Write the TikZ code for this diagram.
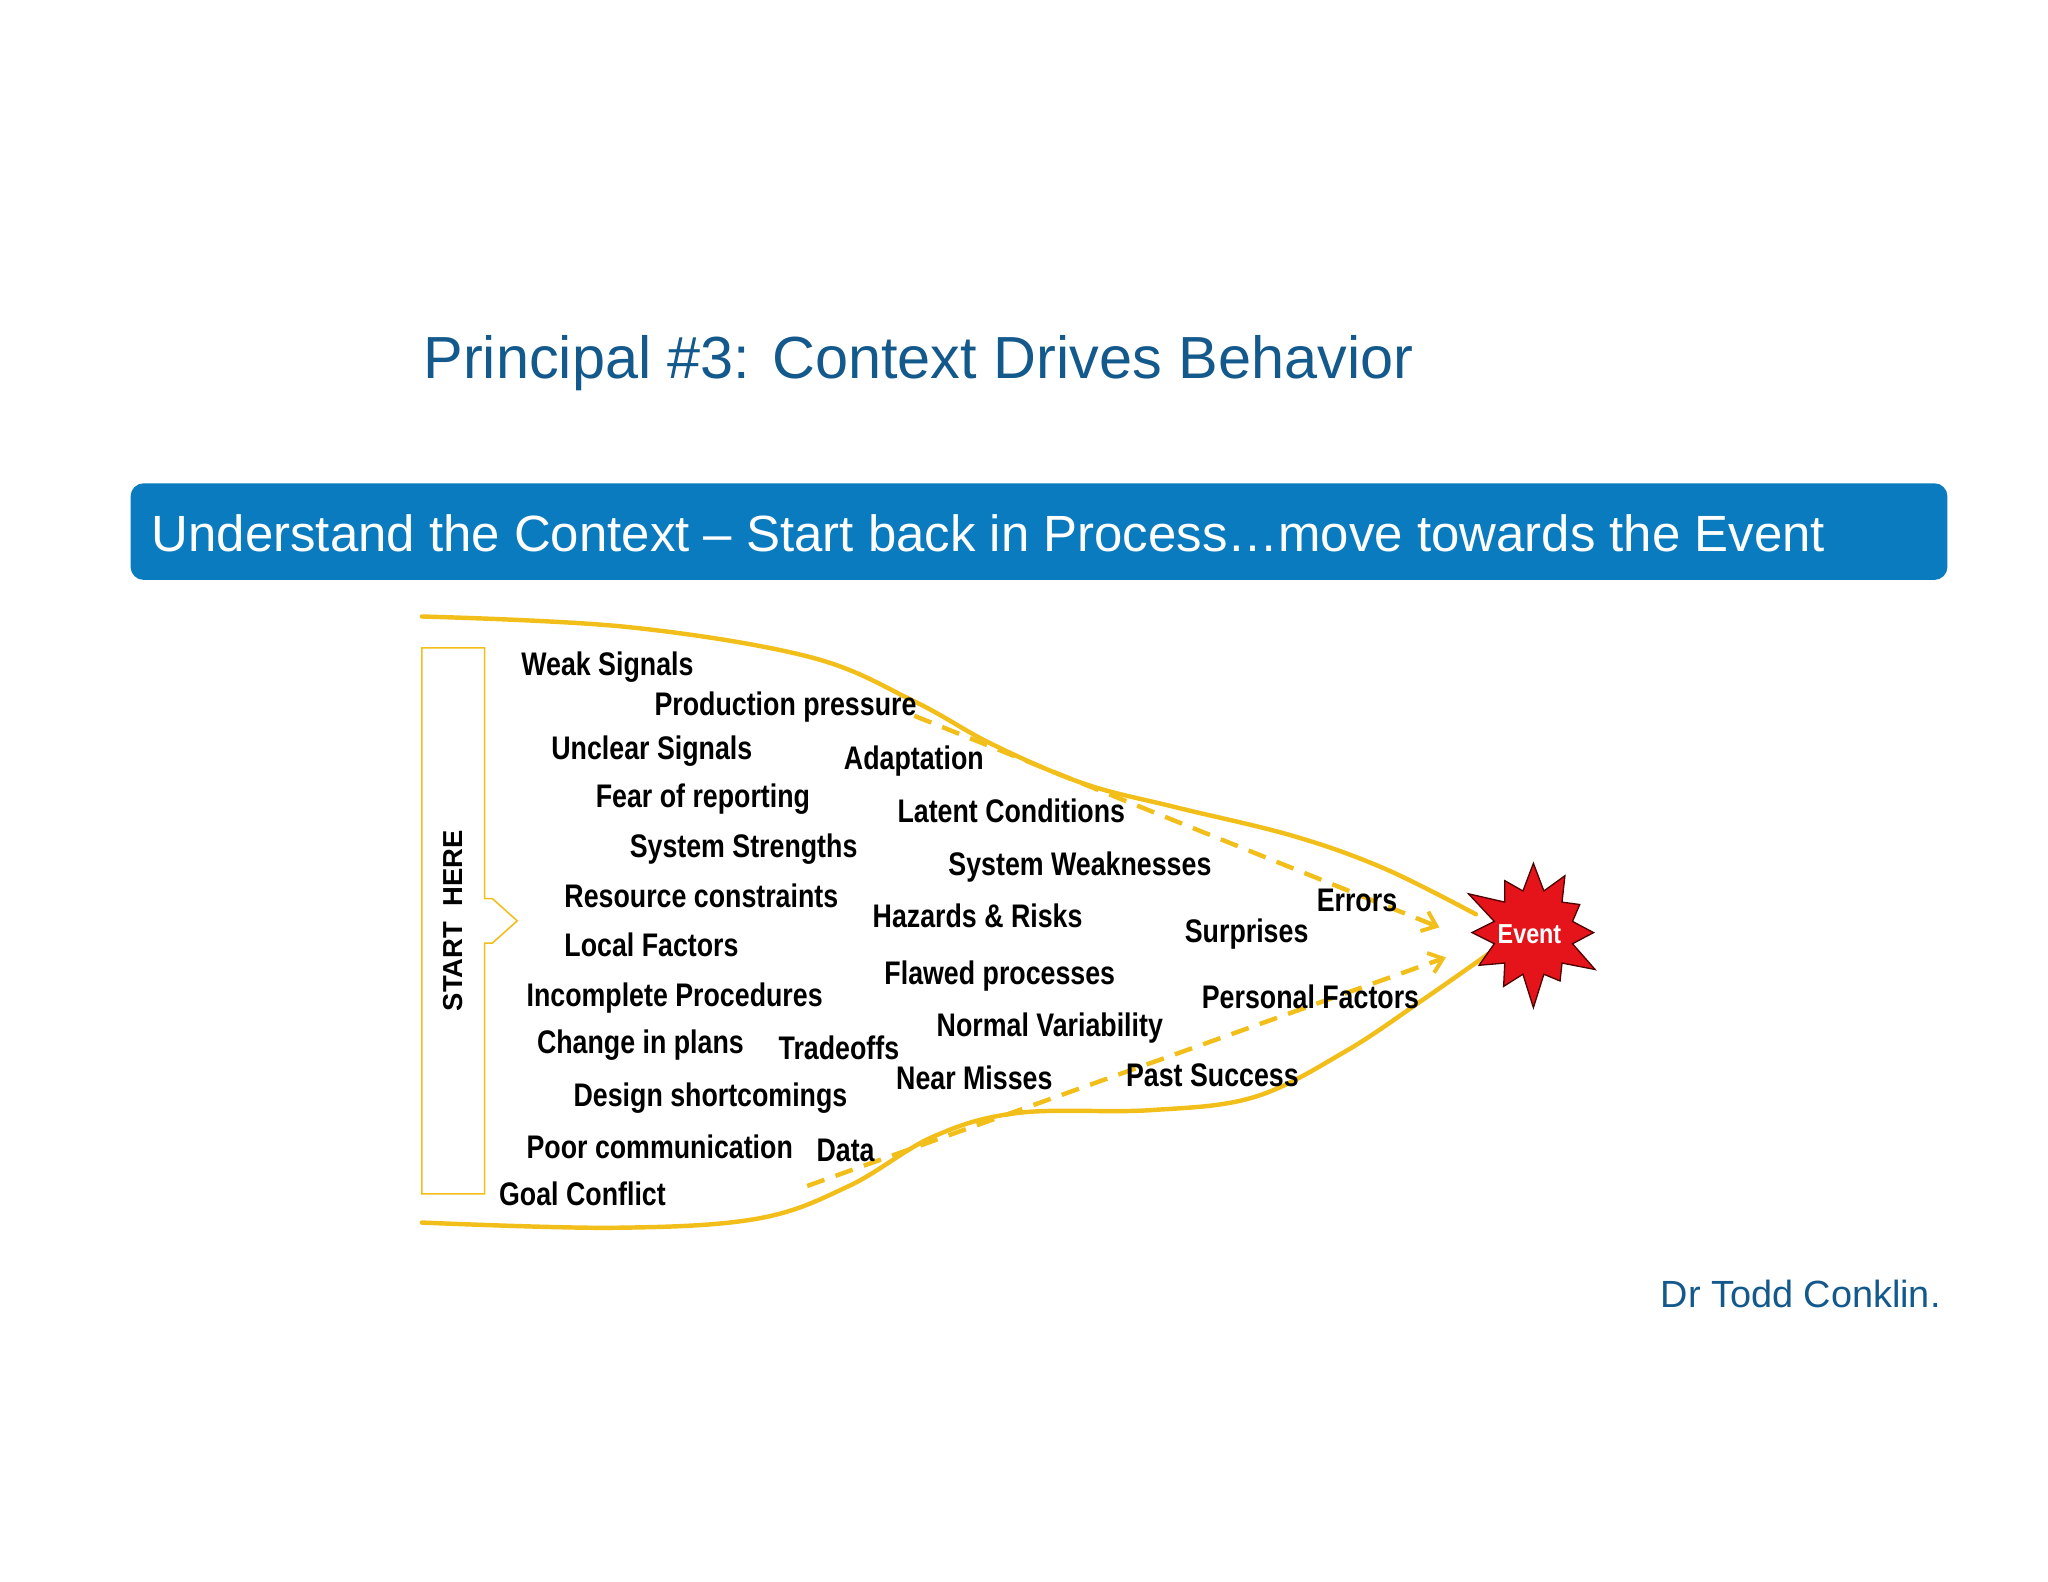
\documentclass[tikz,border=0pt]{standalone}
\usepackage{fontspec}
\setmainfont{Liberation Sans}
\usetikzlibrary{arrows.meta,shapes.symbols}
\definecolor{ttl}{HTML}{14598C}
\definecolor{ban}{HTML}{0B7BBF}
\definecolor{fun}{HTML}{F2BE1A}
\definecolor{evred}{HTML}{E5141B}
\begin{document}
\begin{tikzpicture}[x=1pt,y=-1pt,
  lab/.style={anchor=west,inner sep=0pt,font=\fontsize{25}{27}\selectfont\bfseries,xscale=0.82},
  funline/.style={draw=fun,line width=3.4pt,line cap=round},
  dashline/.style={draw=fun,line width=3.4pt,dash pattern=on 14pt off 9pt,-{Straight Barb[length=10pt,width=16pt,line width=3pt]}}]
\useasboundingbox (0,0) rectangle (1568,1211);
\node[anchor=west,text=ttl,font=\fontsize{45.5}{50}\selectfont,inner sep=0pt] (title) at (324,278) {Principal \#3: Context Drives Behavior};
\node[fill=ban,rounded corners=10pt,minimum width=1391pt,minimum height=74pt,inner sep=0pt] (banner) at (795.5,407) {};
\node[anchor=west,text=white,font=\fontsize{39}{44}\selectfont,inner sep=0pt] (bantext) at (116,408) {Understand the Context – Start back in Process…move towards the Event};
\node[anchor=east,text=ttl,font=\fontsize{29}{32}\selectfont,inner sep=0pt] (author) at (1486,991) {Dr Todd Conklin.};
% funnel
\draw[funline] plot[smooth,tension=0.6] coordinates {(323,472) (480,480) (620,503) (700,537) (760,570) (830,600) (900,618) (990,640) (1060,665) (1130,700)};
\draw[funline] plot[smooth,tension=0.6] coordinates {(323,936) (470,940) (580,933) (650,908) (715,870) (780,852) (880,850) (960,840) (1030,805) (1090,765) (1140,730)};
\coordinate (d1s) at (700,548); \coordinate (d1e) at (1102,710);
\coordinate (d2s) at (618,908); \coordinate (d2e) at (1107,733);
\draw[dashline] (d1s) -- (d1e);
\draw[dashline] (d2s) -- (d2e);
% start here
\draw[fun,line width=1.2pt,fill=white] (323,496) -- (371,496) -- (371,688) -- (377,688) -- (396,705) -- (377,722) -- (371,722) -- (371,914) -- (323,914) -- cycle;
\node[rotate=90,font=\fontsize{21}{22}\selectfont\bfseries,inner sep=0pt] (start) at (347,705) {START\ \ HERE};
% event
\node[starburst,starburst points=12,starburst point height=28pt,fill=evred,draw=black!70!red,line width=1pt,minimum width=118pt,minimum height=122pt,inner sep=0pt] (event) at (1174,714) {};
\node[text=white,font=\fontsize{21}{22}\selectfont\bfseries,xscale=0.85] (evtext) at (1171,715) {Event};
% labels
\node[lab] (l1) at (399,511) {Weak Signals};
\node[lab] (l2) at (501,541) {Production pressure};
\node[lab] (l3) at (422,575) {Unclear Signals};
\node[lab] (l4) at (646,583) {Adaptation};
\node[lab] (l5) at (456,612) {Fear of reporting};
\node[lab] (l6) at (687,621) {Latent Conditions};
\node[lab] (l7) at (482,650) {System Strengths};
\node[lab] (l8) at (726,664) {System Weaknesses};
\node[lab] (l9) at (432,686) {Resource constraints};
\node[lab] (l10) at (1008,689) {Errors};
\node[lab] (l11) at (668,701) {Hazards \& Risks};
\node[lab] (l12) at (907,715) {Surprises};
\node[lab] (l13) at (432,723) {Local Factors};
\node[lab] (l14) at (677,747) {Flawed processes};
\node[lab] (l15) at (403,764) {Incomplete Procedures};
\node[lab] (l16) at (920,763) {Personal Factors};
\node[lab] (l17) at (717,787) {Normal Variability};
\node[lab] (l18) at (411,800) {Change in plans};
\node[lab] (l19) at (596,802) {Tradeoffs};
\node[lab] (l20) at (686,825) {Near Misses};
\node[lab] (l21) at (862,823) {Past Success};
\node[lab] (l22) at (439,841) {Design shortcomings};
\node[lab] (l23) at (403,878) {Poor communication};
\node[lab] (l24) at (625,881) {Data};
\node[lab] (l25) at (382,914) {Goal Conflict};
\end{tikzpicture}
\end{document}
